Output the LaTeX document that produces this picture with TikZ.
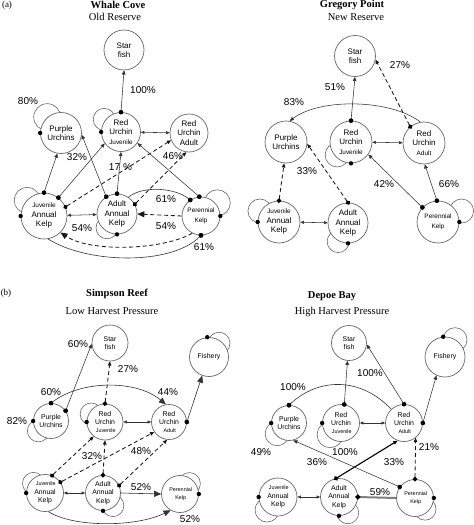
\documentclass[tikz,border=0pt]{standalone}
\usepackage{fontspec}
\setmainfont{Liberation Serif}
\setsansfont{Liberation Sans}
\usetikzlibrary{arrows.meta,backgrounds}

\newcommand{\minor}[1][6.4]{\fontsize{#1}{8}\selectfont}

\begin{document}
\begin{tikzpicture}[x=1pt, y=1pt,
    species/.style={draw=black!60, circle, fill=white, line width=0.7pt, minimum size=#1, inner sep=0pt, align=center, font=\sffamily\fontsize{8}{9.5}\selectfont},
    species/.default=40pt,
    small species/.style={species=#1, font=\sffamily\fontsize{6.9}{8.4}\selectfont},
    small species/.default=36pt,
    link/.style={draw=black!80, line width=0.55pt, {Circle[length=4.6pt, color=black]}-{Triangle[length=4.2pt, width=3.6pt]}, shorten <=-2.3pt},
    link big/.style={draw=black!80, line width=0.6pt, {Circle[length=4.6pt, color=black]}-{Triangle[length=7pt, width=6pt]}, shorten <=-2.3pt},
    open link/.style={draw=black!80, line width=0.55pt, -{Triangle[length=4.2pt, width=3.6pt]}},
    open big/.style={draw=black!80, line width=0.6pt, -{Triangle[length=7pt, width=6pt]}},
    dot link/.style={draw=black!80, line width=0.6pt, {Circle[length=4.8pt, color=black]}-, shorten <=-2.4pt},
    twoway/.style={draw=black!80, line width=0.55pt, {Triangle[length=3.6pt, width=3pt]}-{Triangle[length=3.6pt, width=3pt]}},
    broken/.style={draw=black!90, line width=0.85pt, dash pattern=on 4pt off 2.8pt},
    loopline/.style={draw=black!60, line width=0.6pt},
    pct/.style={font=\sffamily\fontsize{10}{12}\selectfont, inner sep=0pt},
    paneltitle/.style={font=\bfseries\fontsize{10.5}{12}\selectfont, inner sep=0pt},
    panelsub/.style={font=\fontsize{10.5}{12}\selectfont, inner sep=0pt}]
    \useasboundingbox (0,0) rectangle (474,-525);

    % Whale Cove
    \node[panelsub, font=\fontsize{9}{10}\selectfont] (tagA) at (7,-5) {(a)};
    \node[paneltitle] (titleA) at (118,-5) {Whale Cove};
    \node[panelsub] (subA) at (115,-17) {Old Reserve};
    \node[species=40pt] (sfA) at (124,-50) {Star\\fish};
    \node[species=41pt] (puA) at (61,-133) {Purple\\Urchins};
    \node[species=39pt] (rujA) at (121,-132) {Red\\Urchin\\{\minor Juvenile}};
    \node[species=38pt] (ruaA) at (189,-133) {Red\\Urchin\\Adult};
    \node[species=46pt] (jakA) at (44,-216) {{\minor Juvenile}\\Annual\\Kelp};
    \node[species=40pt] (aakA) at (117,-214) {Adult\\Annual\\Kelp};
    \node[species=38pt] (pkA) at (201,-216) {{\minor Perennial}\\{\minor Kelp}};

    \draw[link] (rujA.90) -- (sfA.270);
    \draw[twoway] (rujA) -- (ruaA);
    \draw[link] (jakA.90) -- (puA.260);
    \draw[link] (aakA.122) -- (puA.-5);
    \draw[link] (jakA.52) -- (rujA.215);
    \draw[link, broken] (jakA.23) -- (ruaA.202);
    \draw[link] (aakA.90) -- (rujA.270);
    \draw[twoway] (jakA) -- (aakA);
    \draw[link] (pkA.95) -- (rujA.-34);
    \draw[link, broken] (aakA.29) -- (ruaA.262);
    \draw[open big, broken] (pkA.180) -- (aakA.0);
    \draw[dot link] (pkA.124) .. controls +(-15,12) and +(15,12) .. (aakA.56);
    \draw[open big, broken] (pkA.243) .. controls +(-30,-17) and +(30,-20) .. (jakA.-45);
    \draw[dot link] (pkA.270) .. controls +(-30,-30) and +(40,-25) .. (jakA.280);

    \node[pct] (lA1) at (143,-90) {100\%};
    \node[pct] (lA2) at (28,-101) {80\%};
    \node[pct] (lA3) at (77,-157) {32\%};
    \node[pct] (lA4) at (120.5,-167) {17\hspace{3pt}\%};
    \node[pct] (lA5) at (173,-156) {46\%};
    \node[pct] (lA6) at (166,-199) {61\%};
    \node[pct] (lA7) at (166,-226) {54\%};
    \node[pct] (lA8) at (82,-228) {54\%};
    \node[pct] (lA9) at (204,-247) {61\%};

    % Gregory Point
    \node[paneltitle] (titleB) at (352,-5) {Gregory Point};
    \node[panelsub] (subB) at (356,-17) {New Reserve};
    \node[species=41pt] (sfB) at (355,-56) {Star\\fish};
    \node[species=42pt] (puB) at (286,-142) {Purple\\Urchins};
    \node[species=42pt] (rujB) at (351,-142) {Red\\Urchin\\{\minor Juvenile}};
    \node[species=42pt] (ruaB) at (424,-143) {Red\\Urchin\\{\minor Adult}};
    \node[species=42pt] (jakB) at (279,-222) {{\minor Juvenile}\\Annual\\Kelp};
    \node[species=40pt] (aakB) at (348,-223) {Adult\\Annual\\Kelp};
    \node[species=42pt] (pkB) at (438,-222) {{\minor Perennial}\\{\minor Kelp}};

    \draw[link] (rujB.90) -- (sfB.270);
    \draw[link, broken] (ruaB.130) -- (sfB.-10);
    \draw[open link] (ruaB.100) .. controls +(-30,23) and +(30,23) .. (puB.80);
    \draw[twoway] (rujB) -- (ruaB);
    \draw[link, broken] (jakB.90) -- (puB.265);
    \draw[link, broken] (aakB.90) -- (puB.-5);
    \draw[twoway] (jakB) -- (aakB);
    \draw[link] (pkB.137) -- (rujB.-36);
    \draw[link] (pkB.93) -- (ruaB.272);

    \node[pct] (lB1) at (335,-87) {51\%};
    \node[pct] (lB2) at (400,-65) {27\%};
    \node[pct] (lB3) at (294,-102) {83\%};
    \node[pct] (lB4) at (307,-171) {33\%};
    \node[pct] (lB5) at (384,-184) {42\%};
    \node[pct] (lB6) at (449,-184) {66\%};

    % Simpson Reef
    \node[panelsub, font=\fontsize{9}{10}\selectfont] (tagB) at (6,-293) {(b)};
    \node[paneltitle] (titleC) at (117,-294) {Simpson Reef};
    \node[panelsub] (subC) at (112,-311) {Low Harvest Pressure};
    \node[small species=36pt] (sfC) at (110,-343) {Star\\fish};
    \node[small species=39pt] (fiC) at (209,-357) {Fishery};
    \node[small species=35pt] (puC) at (51,-421) {Purple\\Urchins};
    \node[small species=36pt] (rujC) at (105,-422) {Red\\Urchin\\{\minor[5.4] Juvenile}};
    \node[small species=35pt] (ruaC) at (169,-422) {Red\\Urchin\\{\minor[5.4] Adult}};
    \node[small species=37pt] (jakC) at (45,-493) {{\minor[5.4] Juvenile}\\Annual\\Kelp};
    \node[small species=35pt] (aakC) at (103,-493) {Adult\\Annual\\Kelp};
    \node[small species=37pt] (pkC) at (180,-494) {{\minor[5.4] Perennial}\\{\minor[5.4] Kelp}};

    \draw[link] (puC.35) -- (sfC.183);
    \draw[link, broken] (rujC.90) -- (sfC.270);
    \draw[link big] (puC.90) .. controls +(30,23) and +(-30,25) .. (ruaC.100);
    \draw[link big] (ruaC.0) -- (fiC.250);
    \draw[twoway] (rujC) -- (ruaC);
    \draw[link, broken] (jakC.68) -- (rujC.232);
    \draw[link, broken] (jakC.35) -- (ruaC.214);
    \draw[link, broken] (aakC.90) -- (rujC.270);
    \draw[link, broken] (aakC.25) -- (ruaC.264);
    \draw[twoway] (jakC) -- (aakC);
    \draw[open big] (aakC.0) -- (pkC.180);
    \draw[open big] (jakC.-80) .. controls +(25,-16) and +(-35,-17) .. (pkC.240);

    \node[pct] (lC1) at (78,-344) {60\%};
    \node[pct] (lC2) at (128,-369) {27\%};
    \node[pct] (lC3) at (51,-392) {60\%};
    \node[pct] (lC4) at (168,-392) {44\%};
    \node[pct] (lC5) at (17,-421) {82\%};
    \node[pct] (lC6) at (92,-456) {32\%};
    \node[pct] (lC7) at (141,-451) {48\%};
    \node[pct] (lC8) at (141,-487) {52\%};
    \node[pct] (lC9) at (190,-519) {52\%};

    % Depoe Bay
    \node[paneltitle] (titleD) at (332,-296) {Depoe Bay};
    \node[panelsub] (subD) at (342,-312) {High Harvest Pressure};
    \node[small species=35pt] (sfD) at (349,-343) {Star\\fish};
    \node[small species=40pt] (fiD) at (445,-357) {Fishery};
    \node[small species=35pt] (puD) at (289,-423) {Purple\\Urchins};
    \node[small species=37pt] (rujD) at (341,-423) {Red\\Urchin\\{\minor[5.4] Juvenile}};
    \node[small species=37pt] (ruaD) at (404,-423) {Red\\Urchin\\{\minor[5.4] Adult}};
    \node[small species=38pt] (jakD) at (278,-497) {{\minor[5.4] Juvenile}\\Annual\\Kelp};
    \node[small species=37pt] (aakD) at (339,-497) {Adult\\Annual\\Kelp};
    \node[small species=37pt] (pkD) at (415,-498) {{\minor[5.4] Perennial}\\{\minor[5.4] Kelp}};

    \draw[link] (rujD.80) -- (sfD.265);
    \draw[link] (ruaD.90) -- (sfD.-5);
    \draw[dot link] (puD.90) .. controls +(30,28) and +(-30,32) .. (ruaD.133);
    \draw[link] (ruaD.0) -- (fiD.245);
    \draw[twoway] (rujD) -- (ruaD);
    \draw[link, draw=black, line width=1.1pt] (aakD.99) -- (ruaD.250);
    \draw[link] (pkD.144) -- (puD.-76);
    \draw[link, broken] (pkD.90) -- (ruaD.-52);
    \draw[twoway] (jakD) -- (aakD);
    \draw[dot link, draw=black!50, line width=2pt] (aakD.0) -- (pkD.180);

    \node[pct] (lD1) at (370,-373) {100\%};
    \node[pct] (lD2) at (293,-387) {100\%};
    \node[pct] (lD3) at (261,-452) {49\%};
    \node[pct] (lD4) at (345,-452) {100\%};
    \node[pct] (lD5) at (317,-462) {36\%};
    \node[pct] (lD6) at (394,-462) {33\%};
    \node[pct] (lD7) at (429,-447) {21\%};
    \node[pct] (lD8) at (380,-492) {59\%};

    % self loops
    \begin{scope}[on background layer]
        \foreach \n/\a/\d/\r in {puA/131/21/13.5, rujA/143/21/11, jakA/137/23/13, aakA/234/17/11, pkA/39/21/13,
            rujB/223/19/12, jakB/150/22/12, aakB/242/21/11, pkB/25/26/12,
            fiC/54/17/11, puC/218/16/11, rujC/150/16/11, jakC/140/15/11, aakC/308/16/11, pkC/48/14/11,
            fiD/60/20/12, puD/222/16/12, rujD/227/16/13, jakD/230/17/12, aakD/299/18/11, pkD/312/15/11}
            \draw[loopline] (\n) ++(\a:\d) circle (\r);
    \end{scope}
    \foreach \p in {puA.180, rujA.180, jakA.180, aakA.270, pkA.0, rujB.270, jakB.180, aakB.270, pkB.0,
        fiC.95, puC.180, rujC.180, jakC.180, aakC.270, pkC.0, fiD.95, puD.180, rujD.180, jakD.180, aakD.270, pkD.0}
        \fill (\p) circle (2.2);
\end{tikzpicture}
\end{document}
